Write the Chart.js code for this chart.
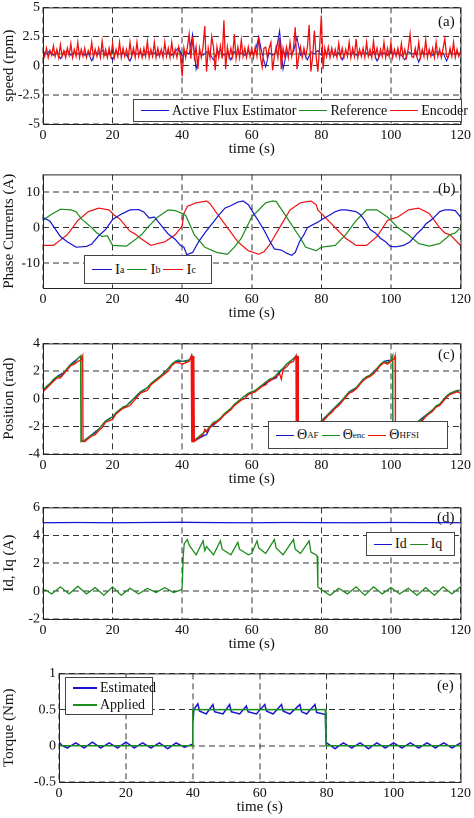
<!DOCTYPE html>
<html><head><meta charset="utf-8">
<script src="https://cdn.jsdelivr.net/npm/chart.js@4"></script>
<style>
body{margin:0;background:#fff;width:474px;height:818px;position:relative;overflow:hidden;font-family:"Liberation Serif",serif}
canvas{position:absolute;left:0}
.lg{position:absolute;background:#fff;border:1px solid #444;display:flex;align-items:center;font-size:14px;color:#111;padding:0 4px;box-sizing:border-box;z-index:3;white-space:nowrap}
.it{display:flex;align-items:center}
.sw{display:inline-block;width:28px;height:0;border-top:1.3px solid;margin:0 3px}
.pl{position:absolute;font-size:15px;color:#111;z-index:3}
</style></head><body>
<canvas id="ca"></canvas><canvas id="cb"></canvas><canvas id="cc"></canvas><canvas id="cd"></canvas><canvas id="ce"></canvas>
<script>
const X_TICKS=[0,20,40,60,80,100,120];
// (a) speed, encoder sampled every 0.5 s, estimator every 1 s
const SPEED_ENC=[1.4,0.8,1.5,0.7,1.3,0.9,1.7,0.8,1.4,0.7,1.8,0.8,1.3,0.7,1.5,0.9,1.9,0.7,1.4,0.8,
2.0,0.7,1.4,0.8,1.5,0.7,1.3,0.9,2.0,0.7,1.4,0.8,1.5,0.7,2.1,0.8,1.4,0.7,1.5,0.8,
1.9,0.7,1.4,0.8,2.0,0.7,1.5,0.8,1.4,0.7,2.0,0.8,1.5,0.7,2.0,0.8,1.4,0.7,1.5,0.8,
2.1,0.7,1.4,0.8,2.0,0.7,1.5,0.8,1.4,0.7,2.0,0.8,1.5,0.7,2.0,0.8,1.4,0.7,1.6,0.8,
-0.9,1.5,0.7,1.6,2.7,0.6,2.5,0.7,1.6,-0.3,1.5,0.7,1.6,3.4,-0.5,1.5,0.7,2.5,1.6,-0.4,
1.6,0.7,1.7,0.6,3.9,-0.3,1.6,0.7,1.5,0.8,2.7,0.6,1.6,0.7,2.2,0.8,1.5,0.7,1.6,0.8,
1.5,0.7,1.6,0.8,2.5,0.7,-0.1,1.5,1.6,0.7,1.5,2.0,-0.4,0.8,1.6,0.7,2.4,-0.3,1.5,0.8,
1.6,0.7,2.0,0.8,1.5,3.3,-0.3,0.8,1.6,0.7,1.5,0.8,1.6,3.5,-0.5,0.7,3.0,0.8,-0.5,1.6,
4.3,-0.3,1.5,0.8,1.6,0.7,1.5,0.8,1.4,0.7,1.9,0.8,1.5,0.7,1.4,0.8,2.0,0.7,1.5,0.8,
2.3,0.7,1.4,0.8,1.5,0.7,2.0,0.8,1.4,0.7,2.1,0.8,1.5,0.7,1.4,0.8,2.0,0.7,1.5,0.8,
2.0,0.7,1.4,0.8,1.5,0.7,1.9,0.8,1.4,0.7,1.5,2.7,0.8,0.7,1.5,0.8,2.0,0.7,1.4,0.8,
2.2,0.7,1.4,0.8,1.5,0.7,2.0,0.8,1.4,0.7,1.5,2.3,0.8,0.7,1.5,0.8,2.0,0.7,1.4,0.8,1.2];
const SPEED_AF=[1.2,1.0,1.3,0.9,1.2,0.6,1.1,1.3,0.9,1.2,1.0,1.2,0.9,1.1,0.4,1.2,1.0,1.3,0.9,1.1,
0.5,1.2,1.0,1.1,0.9,0.4,1.2,1.0,1.1,0.9,1.2,1.0,1.1,0.9,1.2,1.0,1.1,0.9,1.2,1.6,
0.8,1.2,1.0,2.7,-0.3,1.1,0.9,1.2,1.0,0.5,1.1,1.3,0.9,1.1,0.5,1.2,1.0,1.1,0.9,1.2,
1.0,1.2,2.5,1.0,-0.1,1.1,0.9,1.2,3.0,-0.3,1.1,1.0,1.2,2.4,0.9,1.1,0.5,1.2,1.0,1.3,
0.9,1.1,1.0,1.2,0.9,1.1,0.5,1.2,1.0,1.1,0.9,1.2,1.0,1.1,0.9,1.2,0.4,1.0,1.1,0.9,
1.2,1.0,1.1,0.9,0.5,1.2,1.0,1.1,0.3,1.2,1.0,1.1,0.9,1.2,1.0,1.1,0.4,1.2,1.0,1.1,1.0];
const SPEED_REF=[[0,1.0],[120,1.0]];
// (b) phase currents [t, A]
const IA=[[0,2.9],[2,1.8],[5,-2.5],[7,-4.0],[9.5,-5.5],[12.5,-5.3],[14,-4.6],[16,-2.3],[18,-0.5],[20,2.3],[22.5,3.8],[25,5.0],[27.5,5.1],[29,4.4],[30.5,2.7],[32,3.0],[33.5,1.2],[36,-1.8],[38,-3.3],[39.5,-5.0],[40.5,-5.5],[41.3,-7.6],[43,-7.0],[44.7,-4.0],[46.5,-1.5],[48.5,1.0],[50.5,3.5],[52.3,5.5],[54,6.2],[56,7.2],[57.5,7.5],[59,6.5],[60.8,3.6],[62,1.8],[63.7,-1.0],[65,-3.5],[66.5,-6.0],[68.5,-6.3],[70,-7.2],[71.5,-7.8],[72.5,-7.0],[73.7,-4.0],[75,-2.0],[76,0.0],[77.5,0.8],[78.9,1.5],[80.5,2.5],[82.7,3.7],[84,4.5],[85.6,5.0],[87,5.0],[88.4,4.8],[90,4.5],[91.3,3.6],[92.5,2.0],[94,-0.5],[95.5,-1.5],[97,-3.0],[98.5,-4.0],[99.8,-5.3],[101.5,-5.4],[103.6,-5.0],[105.5,-4.0],[107.4,-1.8],[109,-0.3],[110,1.0],[112,2.5],[114,4.5],[115.5,5.0],[117,5.0],[118.5,4.8],[120,3.0]];
const IB=[[0,2],[2,3.5],[5,5.2],[8,5.0],[9.5,4.5],[11,2.5],[14,0],[15.5,-1.5],[17,-2.5],[18.5,-2.3],[20,-5],[24,-5.2],[27,-3],[28.5,-1.8],[30,0],[33,3],[36,5],[38,4.8],[40,4],[41,3.5],[43.5,-2],[46.5,-5.5],[50,-7],[53,-7.5],[55,-5.5],[57,-3],[60,3],[62,5],[64,7],[66,7.5],[67,7.4],[70,3],[72,0],[74,-3],[75.5,-5.5],[77,-6],[78.5,-6.5],[80,-5.5],[84,-5],[87,-2],[88.5,0],[90,2],[93,5],[96,5],[99,3],[102,0],[105,-2],[108,-4.5],[111,-5.2],[114,-4.5],[117,-2],[118.5,-1.5],[120,0]];
const IC=[[0,-5],[3,-5],[5,-3.5],[7,-2],[10,2],[13,4.5],[16,5.5],[19,5],[20.5,3.5],[22,2.5],[25,-1],[26.5,-1.8],[28,-3],[31,-5],[35,-4],[38,-2],[40,0.5],[40.5,4],[41.5,6],[44,7],[47,7.5],[48,6.8],[50,4],[53,0],[56,-4],[59,-6.5],[62,-7.5],[63.5,-6.8],[65,-5],[68,0],[71,5],[74,7],[77,7.5],[78.5,6.5],[79,5],[81,3],[84,0],[87,-3],[90,-5],[93,-5],[96,-2.5],[99,2],[102,3],[105,5],[108,5.5],[111,4],[114,0],[115.5,-1.5],[117,-2],[120,-5]];
// (c) position [t, rad]
const TH_ENC=[[0,0.6],[1,0.9],[2,1.1],[3,1.4],[4,1.6],[5,1.6],[6,1.9],[7,2.2],[8,2.5],[9,2.6],[10,2.9],[10.8,3.1],[10.9,-3.1],[12,-3.0],[13,-2.8],[14,-2.6],[15,-2.5],[16,-2.2],[17,-1.9],[18,-1.6],[19,-1.5],[20,-1.3],[21,-1.0],[22,-0.8],[23,-0.6],[24,-0.5],[25,-0.3],[26,0.0],[27,0.2],[28,0.5],[29,0.6],[30,0.8],[31,1.1],[32,1.3],[33,1.5],[34,1.7],[35,1.9],[36,2.2],[37,2.5],[38,2.7],[39,2.8],[40,2.7],[41,2.7],[42,2.8],[42.8,3.1],[42.9,-3.1],[44,-2.9],[45,-2.7],[46,-2.5],[47,-2.3],[48,-2.0],[49,-1.7],[50,-1.6],[51,-1.4],[52,-1.1],[53,-0.9],[54,-0.7],[55,-0.4],[56,-0.2],[57,0.0],[58,0.2],[59,0.4],[60,0.5],[61,0.6],[62,0.8],[63,1.0],[64,1.2],[65,1.4],[66,1.5],[67,1.7],[68,2.0],[69,2.2],[70,2.5],[71,2.7],[72,2.9],[72.8,3.1],[72.9,-3.1],[74,-3.0],[76,-2.6],[79,-1.9],[80,-1.6],[81,-1.4],[82,-1.1],[83,-0.9],[84,-0.6],[85,-0.4],[86,-0.1],[87,0.2],[88,0.5],[89,0.6],[90,0.8],[91,1.1],[92,1.4],[93,1.6],[94,1.7],[95,1.9],[96,2.2],[97,2.5],[98,2.7],[99,2.6],[100,2.8],[100.5,3.1],[100.6,-3.1],[102,-2.9],[104,-2.5],[106,-2.1],[107,-1.9],[108,-1.6],[109,-1.5],[110,-1.2],[111,-1.0],[112,-0.8],[113,-0.5],[114,-0.4],[115,-0.1],[116,0.2],[117,0.4],[118,0.5],[119,0.6],[120,0.6]];
const TH_AF=[[0,0.6],[2,1.1],[4,1.6],[6,1.9],[8,2.5],[10,2.9],[10.9,3.1],[11,-3.1],[12,-3.0],[14,-2.6],[16,-2.2],[18,-1.6],[20,-1.3],[22,-0.8],[24,-0.5],[26,0.0],[28,0.5],[30,0.8],[32,1.3],[34,1.7],[36,2.2],[38,2.7],[40,2.7],[42,2.8],[42.8,3.1],[42.9,-3.1],[44,-3.0],[46,-2.7],[47,-2.6],[48,-2.1],[50,-1.7],[52,-1.2],[54,-0.7],[56,-0.2],[58,0.2],[60,0.5],[62,0.7],[64,1.1],[66,1.4],[67,1.5],[68,1.9],[70,2.5],[72,2.9],[72.8,3.1],[72.9,-3.1],[74,-3.0],[80,-1.6],[82,-1.1],[84,-0.6],[86,-0.1],[88,0.5],[90,0.8],[92,1.4],[94,1.7],[96,2.2],[98,2.7],[100,2.8],[100.5,3.1],[100.6,-3.1],[102,-2.9],[108,-1.6],[110,-1.2],[112,-0.8],[114,-0.4],[116,0.2],[118,0.5],[120,0.6]];
const TH_HFSI=[[0,0.5],[2,1.0],[4,1.5],[5,1.5],[6,1.8],[8,2.4],[9,2.5],[10,2.7],[11,2.8],[11.4,3.1],[11.5,-3.1],[12,-3.1],[13,-2.9],[14,-2.7],[15,-2.6],[16,-2.3],[17,-2.1],[18,-1.7],[19,-1.6],[20,-1.5],[21,-1.1],[22,-0.9],[23,-0.7],[24,-0.6],[25,-0.5],[26,-0.2],[27,0.1],[28,0.4],[29,0.5],[30,0.6],[31,1.0],[32,1.2],[33,1.4],[34,1.6],[35,1.8],[36,2.0],[37,2.4],[38,2.6],[39,2.6],[40,2.5],[41,2.6],[42,2.7],[42.6,3.1],[42.7,-3.1],[42.8,3.1],[42.9,-3.1],[43.0,3.1],[43.1,-3.1],[43.2,3.1],[43.3,-3.1],[43.4,3.1],[43.5,-3.1],[44,-3.0],[45,-2.8],[46,-2.6],[46.5,-2.2],[47,-2.4],[48,-2.1],[49,-1.8],[50,-1.7],[51,-1.5],[52,-1.2],[53,-1.0],[54,-0.8],[55,-0.5],[56,-0.3],[57,-0.1],[58,0.0],[59,0.3],[60,0.4],[61,0.5],[62,0.7],[63,0.9],[64,1.0],[65,1.3],[66,1.4],[67,1.6],[68,1.8],[68.5,1.4],[69,2.1],[70,2.3],[71,2.6],[72,2.7],[72.7,3.1],[72.8,-3.1],[72.9,3.1],[73.0,-3.1],[73.1,3.1],[73.2,-3.1],[73.3,3.1],[73.4,-3.1],[74,-3.0],[79,-2.0],[80,-1.7],[81,-1.5],[82,-1.2],[83,-1.0],[84,-0.7],[85,-0.5],[86,-0.2],[87,0.1],[88,0.4],[89,0.5],[90,0.7],[91,1.0],[92,1.3],[93,1.5],[94,1.6],[95,1.8],[96,2.1],[97,2.4],[98,2.6],[99,2.5],[100,2.7],[101,2.9],[101.2,3.1],[101.3,-3.1],[102,-3.0],[107,-2.0],[108,-1.7],[109,-1.6],[110,-1.3],[111,-1.1],[112,-0.9],[113,-0.6],[114,-0.5],[115,-0.2],[116,0.1],[117,0.3],[118,0.4],[119,0.5],[120,0.4]];
// (d) currents [t, A]
const ID=[[0,4.9],[10,4.92],[20,4.9],[30,4.92],[40,4.93],[50,4.91],[60,4.9],[70,4.92],[80,4.91],[90,4.9],[100,4.92],[110,4.91],[120,4.9]];
const IQ=[[0,0.1],[1,0.05],[2.5,-0.2],[5,0.3],[7.5,-0.2],[10,0.35],[12.5,-0.2],[15,0.25],[17.5,-0.3],[20,0.3],[22.5,-0.3],[25,0.2],[27.5,-0.2],[30,0.2],[32.5,-0.1],[35,0.25],[37.5,-0.1],[39.8,0.1],[40,0.3],[40.3,2.5],[40.6,3.4],[41.5,3.7],[42,3.3],[44,2.6],[46,3.6],[46.5,2.9],[47,3.2],[49,2.6],[51,3.6],[51.5,3.0],[54,2.6],[56,3.5],[56.5,3.0],[59,2.6],[60,2.7],[61.5,3.6],[62,3.1],[64,2.7],[66.5,3.7],[67,3.1],[69,2.6],[72,3.7],[72.5,3.0],[74,2.7],[76.5,3.6],[77,2.8],[78.5,2.6],[78.8,2.5],[79,0.3],[80,0.1],[82.5,-0.3],[85,0.2],[87.5,-0.2],[90,0.3],[92.5,-0.3],[95,0.3],[97.5,-0.2],[100,0.25],[102.5,-0.2],[105,0.2],[107.5,-0.3],[110,0.25],[112.5,-0.3],[115,0.3],[117.5,-0.2],[120,0.3]];
// (e) torque [t, Nm]
const T_EST=[[0,0.05],[1,0.0],[2.5,-0.03],[5,0.04],[7.5,-0.03],[10,0.05],[12.5,-0.03],[15,0.04],[17.5,-0.03],[20,0.05],[22.5,-0.03],[25,0.04],[27.5,-0.03],[30,0.04],[32.5,-0.04],[35,0.04],[37.5,-0.02],[39.8,0.02],[40,0.3],[40.3,0.5],[41.5,0.58],[42,0.48],[44,0.44],[46,0.57],[46.5,0.47],[49,0.44],[51,0.57],[51.5,0.47],[54,0.44],[56,0.55],[56.5,0.47],[59,0.44],[61.5,0.57],[62,0.48],[64,0.44],[66.5,0.57],[67,0.48],[69,0.44],[72,0.57],[72.5,0.47],[74,0.44],[76.5,0.57],[77,0.46],[79,0.44],[79.6,0.43],[79.8,0.05],[80,0.04],[82.5,-0.04],[85,0.04],[87.5,-0.03],[90,0.04],[92.5,-0.04],[95,0.04],[97.5,-0.03],[100,0.04],[102.5,-0.03],[105,0.04],[107.5,-0.03],[110,0.04],[112.5,-0.03],[115,0.04],[117.5,-0.03],[120,0.04]];
const T_APP=[[0,0],[39.8,0],[40,0.5],[79.6,0.5],[79.8,0],[120,0]];

const BLUE='#1414d2',GREEN='#1c8c1c',RED='#f01010';
const FONT={family:'"Liberation Serif", serif',size:14};
const pts=a=>a.map(p=>({x:p[0],y:p[1]}));
const frame={id:'frame',afterDraw(c){const a=c.chartArea,x=c.ctx;x.save();x.strokeStyle='#222';x.lineWidth=1;x.strokeRect(a.left+0.5,a.top+0.5,a.right-a.left,a.bottom-a.top);x.restore();}};
function ds(d,col,w,ord){return {data:d,borderColor:col,borderWidth:w,pointRadius:0,tension:0,order:ord,fill:false};}
function panel(id,plotTop,plotBot,yW,ymin,ymax,yticks,ytitle,datasets){
  const cv=document.getElementById(id);
  const padT=6,xH=34;
  cv.style.top=(plotTop-padT)+'px';
  cv.style.width='474px';cv.style.height=(plotBot-plotTop+padT+xH)+'px';
  new Chart(cv,{type:'line',data:{datasets},plugins:[frame],
    options:{responsive:false,animation:false,devicePixelRatio:2,
      layout:{padding:{top:padT,right:10,left:0,bottom:0}},
      plugins:{legend:{display:false},tooltip:{enabled:false}},
      scales:{
        x:{type:'linear',min:0,max:120,afterBuildTicks:s=>{s.ticks=X_TICKS.map(v=>({value:v}));},afterFit:s=>{s.height=xH;},
          grid:{color:'#333',lineWidth:1,drawTicks:false},border:{display:false,dash:[6,4]},
          ticks:{font:FONT,color:'#111',padding:3,maxRotation:0,callback:v=>String(v)},
          title:{display:true,text:'time (s)',font:{family:FONT.family,size:15},color:'#111',padding:{top:0,bottom:0}}},
        y:{min:ymin,max:ymax,afterBuildTicks:s=>{s.ticks=yticks.map(v=>({value:v}));},afterFit:s=>{s.width=yW;},
          grid:{color:'#333',lineWidth:1,drawTicks:false},border:{display:false,dash:[6,4]},
          ticks:{font:FONT,color:'#111',padding:3,callback:v=>String(v)},
          title:{display:true,text:ytitle,font:{family:FONT.family,size:15},color:'#111',padding:{top:0,bottom:0}}}
      }}});
}
const half=SPEED_ENC.map((v,i)=>({x:i*0.5,y:v}));
const whole=SPEED_AF.map((v,i)=>({x:i,y:v}));
panel('ca',2,124,43,-5,5,[-5,-2.5,0,2.5,5],'speed (rpm)',[ds(whole,BLUE,1,1),ds(pts(SPEED_REF),GREEN,1,2),ds(half,RED,1.3,0)]);
panel('cb',169,288,43,-17,15,[-10,0,10],'Phase Currents (A)',[ds(pts(IA),BLUE,1.2,0),ds(pts(IB),GREEN,1.2,1),ds(pts(IC),RED,1.2,2)]);
panel('cc',338,454,43,-4,4,[-4,-2,0,2,4],'Position (rad)',[ds(pts(TH_AF),BLUE,1.3,2),ds(pts(TH_ENC),GREEN,1.3,1),ds(pts(TH_HFSI),RED,1.3,0)]);
panel('cd',502,619,43,-2,6,[-2,0,2,4,6],'Id, Iq (A)',[ds(pts(ID),BLUE,1.3,1),ds(pts(IQ),GREEN,1.3,0)]);
panel('ce',668,782,59,-0.5,1,[-0.5,0,0.5,1],'Torque (Nm)',[ds(pts(T_EST),BLUE,1.5,1),ds(pts(T_APP),GREEN,1.5,0)]);
</script>
<div class="lg" style="left:133px;top:99px;width:329px;height:23px;justify-content:space-between"><span class="it"><span class="sw" style="border-color:#1414d2"></span>Active Flux Estimator</span><span class="it"><span class="sw" style="border-color:#1c8c1c"></span>Reference</span><span class="it"><span class="sw" style="border-color:#f01010"></span>Encoder</span></div>
<div class="lg" style="left:84px;top:255px;width:128px;height:29px;font-size:15px"><span class="sw" style="border-color:#1414d2;width:20px"></span>I<sub style="font-size:10px">a</sub><span class="sw" style="border-color:#1c8c1c;width:20px"></span>I<sub style="font-size:10px">b</sub><span class="sw" style="border-color:#f01010;width:20px"></span>I<sub style="font-size:10px">c</sub></div>
<div class="lg" style="left:268px;top:421px;width:180px;height:28px;font-size:14px"><span class="sw" style="border-color:#1414d2;width:18px"></span>Θ<sub style="font-size:9px">AF</sub><span class="sw" style="border-color:#1c8c1c;width:18px"></span>Θ<sub style="font-size:9px">enc</sub><span class="sw" style="border-color:#f01010;width:18px"></span>Θ<sub style="font-size:9px">HFSI</sub></div>
<div class="lg" style="left:366px;top:532px;width:89px;height:24px"><span class="sw" style="border-color:#1414d2;width:18px"></span>Id<span class="sw" style="border-color:#1c8c1c;width:18px"></span>Iq</div>
<div class="lg" style="left:65px;top:677px;width:88px;height:38px;flex-direction:column;align-items:flex-start;justify-content:center;line-height:17px;font-size:14px"><span class="it"><span class="sw" style="border-color:#1414d2;border-top-width:2px;width:24px"></span>Estimated</span><span class="it"><span class="sw" style="border-color:#1c8c1c;border-top-width:2px;width:24px"></span>Applied</span></div>
<div class="pl" style="left:438px;top:13px">(a)</div>
<div class="pl" style="left:438px;top:180px">(b)</div>
<div class="pl" style="left:438px;top:346px">(c)</div>
<div class="pl" style="left:437px;top:509px">(d)</div>
<div class="pl" style="left:437px;top:677px">(e)</div>
</body></html>
